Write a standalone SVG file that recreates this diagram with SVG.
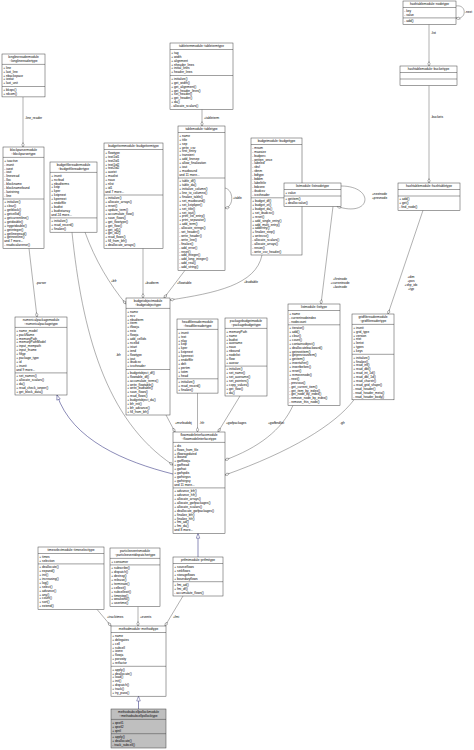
<svg xmlns="http://www.w3.org/2000/svg" width="474" height="750" viewBox="0 0 474 750">
<style>
.b{fill:#fff;stroke:#404040;stroke-width:0.5}
.g{fill:#bfbfbf;stroke:#404040;stroke-width:0.5}
.s{stroke:#404040;stroke-width:0.5}
.t{font-family:"Liberation Sans",Arial,sans-serif;font-size:3.2px;fill:#000}
.c{text-anchor:middle}
.e{fill:none;stroke:#505050;stroke-width:0.45}
.i{fill:none;stroke:#191970;stroke-width:0.5}
</style>
<defs>
<marker id="od" markerUnits="userSpaceOnUse" markerWidth="6" markerHeight="4" viewBox="0 0 6 4" refX="5" refY="2" orient="auto"><path d="M0.6,2 L2.8,0.8 L5,2 L2.8,3.2 Z" fill="#fff" stroke="#404040" stroke-width="0.4"/></marker>
<marker id="tri" markerUnits="userSpaceOnUse" markerWidth="6" markerHeight="5" viewBox="0 0 6 5" refX="5.4" refY="2.5" orient="auto"><path d="M0.6,0.7 L5.4,2.5 L0.6,4.3 Z" fill="#fff" stroke="#191970" stroke-width="0.4"/></marker>
</defs>
<rect width="474" height="750" fill="#fff"/>

<g id="connectors">
<path class="e" d="M23,96.9 L23,147" marker-end="url(#od)"/>
<path class="e" d="M456,6 C467,4 467,20 456,18" marker-end="url(#od)"/>
<path class="e" d="M429,24.4 L429,66" marker-end="url(#od)"/>
<path class="e" d="M429,85.5 L429,183" marker-end="url(#od)"/>
<path class="e" d="M341,186 C375,186 372,218 337,206.4" marker-end="url(#od)"/>
<path class="e" d="M333,206.4 L321,304" marker-end="url(#od)"/>
<path class="e" d="M423,210.3 L388,314" marker-end="url(#od)"/>
<path class="e" d="M202,109.3 L202,126" marker-end="url(#od)"/>
<path class="e" d="M225,188 C234,190 234,207 225,208" marker-end="url(#od)"/>
<path class="e" d="M143,248.3 L143,298" marker-end="url(#od)"/>
<path class="e" d="M85,232.2 C95,260 110,285 126,304" marker-end="url(#od)"/>
<path class="e" d="M185,270.3 L164,298" marker-end="url(#od)"/>
<path class="e" d="M262,255 C256,285 215,293 170,300" marker-end="url(#od)"/>
<path class="e" d="M29,248.4 L37,317" marker-end="url(#od)"/>
<path class="e" d="M72,232.2 C82,330 105,420 173,465" marker-end="url(#od)"/>
<path class="i" d="M173,474 C125,462 72,440 57,395" marker-end="url(#tri)"/>
<path class="e" d="M166,415 L175,432" marker-end="url(#od)"/>
<path class="e" d="M197.5,393.1 L197.5,432" marker-end="url(#od)"/>
<path class="e" d="M240,396 L218,432" marker-end="url(#od)"/>
<path class="e" d="M293,405.4 C282,430 258,448 225,460" marker-end="url(#od)"/>
<path class="e" d="M354,399.8 C335,425 290,452 225,475" marker-end="url(#od)"/>
<path class="i" d="M198,557 L198,533.4" marker-end="url(#tri)"/>
<path class="e" d="M183,596 L165,626" marker-end="url(#od)"/>
<path class="e" d="M97,609.4 L111,626" marker-end="url(#od)"/>
<path class="e" d="M138,606.5 L138,626" marker-end="url(#od)"/>
<path class="i" d="M138.5,709 L138.5,696.2" marker-end="url(#tri)"/>
<text class="t" x="25" y="119">-line_reader</text>
<text class="t" x="465" y="13">-next</text>
<text class="t" x="431" y="34">-list</text>
<text class="t" x="431" y="118">-buckets</text>
<text class="t" x="372" y="195">+nextnode</text>
<text class="t" x="372" y="199">+prevnode</text>
<text class="t c" x="340"><tspan x="340" y="280">+firstnode</tspan><tspan x="340" dy="3.9">+currentnode</tspan><tspan x="340" dy="3.9">+lastnode</tspan></text>
<text class="t c" x="411"><tspan x="411" y="278">+dim</tspan><tspan x="411" dy="3.9">+pos</tspan><tspan x="411" dy="3.9">+shp_idx</tspan><tspan x="411" dy="3.9">+typ</tspan></text>
<text class="t" x="204" y="119">+tableterm</text>
<text class="t" x="233" y="199">+table</text>
<text class="t" x="145" y="284">+budterm</text>
<text class="t" x="111" y="282">+bfr</text>
<text class="t" x="177" y="284">+flowtable</text>
<text class="t" x="244" y="283">+budtable</text>
<text class="t" x="36" y="284">-parser</text>
<text class="t" x="116" y="356">-bfr</text>
<text class="t" x="175" y="424">+mvrbudobj</text>
<text class="t" x="199.5" y="424">-hfr</text>
<text class="t" x="226" y="424">+gwfpackages</text>
<text class="t" x="268" y="424">+gwfbndlist</text>
<text class="t" x="340" y="424">-gfr</text>
<text class="t" x="173" y="618">+fmi</text>
<text class="t" x="107" y="618">+tracktimes</text>
<text class="t" x="140" y="618">+events</text>
</g>

<g id="longlinereadertype">
<rect class="b" x="2" y="54" width="43" height="42.9"/>
<line class="s" x1="2" y1="64.4" x2="45" y2="64.4"/><line class="s" x1="2" y1="86.5" x2="45" y2="86.5"/>
<text class="t c"><tspan x="23.5" y="58.3">longlinereadermodule</tspan><tspan x="23.5" dy="3.9">::longlinereadertype</tspan></text>
<text class="t"><tspan x="3.3" y="68.7">+ line</tspan><tspan x="3.3" dy="3.9">+ last_line</tspan><tspan x="3.3" dy="3.9">+ nbackspace</tspan><tspan x="3.3" dy="3.9">+ iostat</tspan><tspan x="3.3" dy="3.9">+ last_unit</tspan></text>
<text class="t"><tspan x="3.3" y="90.8">+ bkspc()</tspan><tspan x="3.3" dy="3.9">+ rdcom()</tspan></text>
</g>

<g id="blockparsertype">
<rect class="b" x="3" y="147" width="41" height="101.4"/>
<line class="s" x1="3" y1="157.4" x2="44" y2="157.4"/><line class="s" x1="3" y1="199" x2="44" y2="199"/>
<text class="t c"><tspan x="23.5" y="151.3">blockparsermodule</tspan><tspan x="23.5" dy="3.9">::blockparsertype</tspan></text>
<text class="t"><tspan x="4.3" y="161.7">+ iuactive</tspan><tspan x="4.3" dy="3.9">- inunit</tspan><tspan x="4.3" dy="3.9">- iuext</tspan><tspan x="4.3" dy="3.9">- iout</tspan><tspan x="4.3" dy="3.9">- linesread</tspan><tspan x="4.3" dy="3.9">- lloc</tspan><tspan x="4.3" dy="3.9">- blockname</tspan><tspan x="4.3" dy="3.9">- blocknamefound</tspan><tspan x="4.3" dy="3.9">- laststring</tspan><tspan x="4.3" dy="3.9">- line</tspan></text>
<text class="t"><tspan x="4.3" y="203.3">+ initialize()</tspan><tspan x="4.3" dy="3.9">+ clear()</tspan><tspan x="4.3" dy="3.9">+ getblock()</tspan><tspan x="4.3" dy="3.9">+ getcellid()</tspan><tspan x="4.3" dy="3.9">+ getcurrentline()</tspan><tspan x="4.3" dy="3.9">+ getdouble()</tspan><tspan x="4.3" dy="3.9">+ trygetdouble()</tspan><tspan x="4.3" dy="3.9">+ getinteger()</tspan><tspan x="4.3" dy="3.9">+ getlinesread()</tspan><tspan x="4.3" dy="3.9">+ getnextline()</tspan><tspan x="4.3" dy="3.9">and 7 more...</tspan><tspan x="4.3" dy="3.9">- readscalarerror()</tspan></text>
</g>

<g id="budgetfilereadertype">
<rect class="b" x="50" y="162" width="47" height="70.2"/>
<line class="s" x1="50" y1="172.4" x2="97" y2="172.4"/><line class="s" x1="50" y1="217.9" x2="97" y2="217.9"/>
<text class="t c"><tspan x="73.5" y="166.3">budgetfilereadermodule</tspan><tspan x="73.5" dy="3.9">::budgetfilereadertype</tspan></text>
<text class="t"><tspan x="51.3" y="176.7">+ inunit</tspan><tspan x="51.3" dy="3.9">+ ncrbud</tspan><tspan x="51.3" dy="3.9">+ nbudterms</tspan><tspan x="51.3" dy="3.9">+ kstp</tspan><tspan x="51.3" dy="3.9">+ kper</tspan><tspan x="51.3" dy="3.9">+ kstpnext</tspan><tspan x="51.3" dy="3.9">+ kpernext</tspan><tspan x="51.3" dy="3.9">+ endoffile</tspan><tspan x="51.3" dy="3.9">+ budtxt</tspan><tspan x="51.3" dy="3.9">+ budtxtarray</tspan><tspan x="51.3" dy="3.9">and 24 more...</tspan></text>
<text class="t"><tspan x="51.3" y="222.2">+ initialize()</tspan><tspan x="51.3" dy="3.9">+ read_record()</tspan><tspan x="51.3" dy="3.9">+ finalize()</tspan></text>
</g>

<g id="budgettermtype">
<rect class="b" x="104" y="143" width="59" height="105.3"/>
<line class="s" x1="104" y1="149.5" x2="163" y2="149.5"/><line class="s" x1="104" y1="195" x2="163" y2="195"/>
<text class="t c" x="133.5" y="147.3">budgettermmodule::budgettermtype</text>
<text class="t"><tspan x="105.3" y="153.8">+ flowtype</tspan><tspan x="105.3" dy="3.9">+ text1id1</tspan><tspan x="105.3" dy="3.9">+ text2id1</tspan><tspan x="105.3" dy="3.9">+ text1id2</tspan><tspan x="105.3" dy="3.9">+ text2id2</tspan><tspan x="105.3" dy="3.9">+ auxtxt</tspan><tspan x="105.3" dy="3.9">+ maxlist</tspan><tspan x="105.3" dy="3.9">+ naux</tspan><tspan x="105.3" dy="3.9">+ nlist</tspan><tspan x="105.3" dy="3.9">+ id1</tspan><tspan x="105.3" dy="3.9">and 7 more...</tspan></text>
<text class="t"><tspan x="105.3" y="199.3">+ initialize()</tspan><tspan x="105.3" dy="3.9">+ allocate_arrays()</tspan><tspan x="105.3" dy="3.9">+ reset()</tspan><tspan x="105.3" dy="3.9">+ update_term()</tspan><tspan x="105.3" dy="3.9">+ accumulate_flow()</tspan><tspan x="105.3" dy="3.9">+ save_flows()</tspan><tspan x="105.3" dy="3.9">+ get_flowtype()</tspan><tspan x="105.3" dy="3.9">+ get_flow()</tspan><tspan x="105.3" dy="3.9">+ get_id1()</tspan><tspan x="105.3" dy="3.9">+ get_id2()</tspan><tspan x="105.3" dy="3.9">+ read_flows()</tspan><tspan x="105.3" dy="3.9">+ fill_from_bfr()</tspan><tspan x="105.3" dy="3.9">+ deallocate_arrays()</tspan></text>
</g>

<g id="tabletermtype">
<rect class="b" x="170" y="43" width="63" height="66.3"/>
<line class="s" x1="170" y1="49.5" x2="233" y2="49.5"/><line class="s" x1="170" y1="75.5" x2="233" y2="75.5"/>
<text class="t c" x="201.5" y="47.3">tabletermmodule::tabletermtype</text>
<text class="t"><tspan x="171.3" y="53.8">+ tag</tspan><tspan x="171.3" dy="3.9">+ width</tspan><tspan x="171.3" dy="3.9">+ alignment</tspan><tspan x="171.3" dy="3.9">+ nheader_lines</tspan><tspan x="171.3" dy="3.9">+ initial_lines</tspan><tspan x="171.3" dy="3.9">+ header_lines</tspan></text>
<text class="t"><tspan x="171.3" y="79.8">+ initialize()</tspan><tspan x="171.3" dy="3.9">+ get_width()</tspan><tspan x="171.3" dy="3.9">+ get_alignment()</tspan><tspan x="171.3" dy="3.9">+ get_header_lines()</tspan><tspan x="171.3" dy="3.9">+ set_header()</tspan><tspan x="171.3" dy="3.9">+ get_header()</tspan><tspan x="171.3" dy="3.9">+ da()</tspan><tspan x="171.3" dy="3.9">- allocate_scalars()</tspan></text>
</g>

<g id="tabletype">
<rect class="b" x="178" y="126" width="47" height="144.3"/>
<line class="s" x1="178" y1="132.5" x2="225" y2="132.5"/><line class="s" x1="178" y1="178" x2="225" y2="178"/>
<text class="t c" x="201.5" y="130.3">tablemodule::tabletype</text>
<text class="t"><tspan x="179.3" y="136.8">+ name</tspan><tspan x="179.3" dy="3.9">+ title</tspan><tspan x="179.3" dy="3.9">+ sep</tspan><tspan x="179.3" dy="3.9">+ write_csv</tspan><tspan x="179.3" dy="3.9">+ first_entry</tspan><tspan x="179.3" dy="3.9">+ transient</tspan><tspan x="179.3" dy="3.9">+ add_linesep</tspan><tspan x="179.3" dy="3.9">+ allow_finalization</tspan><tspan x="179.3" dy="3.9">+ iout</tspan><tspan x="179.3" dy="3.9">+ maxbound</tspan><tspan x="179.3" dy="3.9">and 11 more...</tspan></text>
<text class="t"><tspan x="179.3" y="182.3">+ table_df()</tspan><tspan x="179.3" dy="3.9">+ table_da()</tspan><tspan x="179.3" dy="3.9">+ initialize_column()</tspan><tspan x="179.3" dy="3.9">+ line_to_columns()</tspan><tspan x="179.3" dy="3.9">+ finalize_table()</tspan><tspan x="179.3" dy="3.9">+ set_maxbound()</tspan><tspan x="179.3" dy="3.9">+ set_kstpkper()</tspan><tspan x="179.3" dy="3.9">+ set_title()</tspan><tspan x="179.3" dy="3.9">+ set_iout()</tspan><tspan x="179.3" dy="3.9">+ print_list_entry()</tspan><tspan x="179.3" dy="3.9">+ print_separator()</tspan><tspan x="179.3" dy="3.9">+ add_term()</tspan><tspan x="179.3" dy="3.9">- allocate_strings()</tspan><tspan x="179.3" dy="3.9">- set_header()</tspan><tspan x="179.3" dy="3.9">- write_header()</tspan><tspan x="179.3" dy="3.9">- write_line()</tspan><tspan x="179.3" dy="3.9">- finalize()</tspan><tspan x="179.3" dy="3.9">- add_error()</tspan><tspan x="179.3" dy="3.9">- reset()</tspan><tspan x="179.3" dy="3.9">- add_integer()</tspan><tspan x="179.3" dy="3.9">- add_long_integer()</tspan><tspan x="179.3" dy="3.9">- add_real()</tspan><tspan x="179.3" dy="3.9">- add_string()</tspan></text>
</g>

<g id="budgettype">
<rect class="b" x="251" y="138" width="51" height="117"/>
<line class="s" x1="251" y1="144.5" x2="302" y2="144.5"/><line class="s" x1="251" y1="197.8" x2="302" y2="197.8"/>
<text class="t c" x="276.5" y="142.3">budgetmodule::budgettype</text>
<text class="t"><tspan x="252.3" y="148.8">- msum</tspan><tspan x="252.3" dy="3.9">- maxsize</tspan><tspan x="252.3" dy="3.9">- budperc</tspan><tspan x="252.3" dy="3.9">- written_once</tspan><tspan x="252.3" dy="3.9">- labeled</tspan><tspan x="252.3" dy="3.9">- vbvl</tspan><tspan x="252.3" dy="3.9">- vbnm</tspan><tspan x="252.3" dy="3.9">- bdtype</tspan><tspan x="252.3" dy="3.9">- bddim</tspan><tspan x="252.3" dy="3.9">- labeltitle</tspan><tspan x="252.3" dy="3.9">- bdzone</tspan><tspan x="252.3" dy="3.9">- ibudcsv</tspan><tspan x="252.3" dy="3.9">- icsvheader</tspan></text>
<text class="t"><tspan x="252.3" y="202.1">+ budget_df()</tspan><tspan x="252.3" dy="3.9">+ budget_ot()</tspan><tspan x="252.3" dy="3.9">+ budget_da()</tspan><tspan x="252.3" dy="3.9">+ set_ibudcsv()</tspan><tspan x="252.3" dy="3.9">+ reset()</tspan><tspan x="252.3" dy="3.9">+ add_single_entry()</tspan><tspan x="252.3" dy="3.9">+ add_multi_entry()</tspan><tspan x="252.3" dy="3.9">+ addentry()</tspan><tspan x="252.3" dy="3.9">+ finalize_step()</tspan><tspan x="252.3" dy="3.9">+ writecsv()</tspan><tspan x="252.3" dy="3.9">- allocate_scalars()</tspan><tspan x="252.3" dy="3.9">- allocate_arrays()</tspan><tspan x="252.3" dy="3.9">- resize()</tspan><tspan x="252.3" dy="3.9">- write_csv_header()</tspan></text>
</g>

<g id="nodetype">
<rect class="b" x="403" y="1" width="53" height="23.4"/>
<line class="s" x1="403" y1="7.5" x2="456" y2="7.5"/><line class="s" x1="403" y1="17.9" x2="456" y2="17.9"/>
<text class="t c" x="429.5" y="5.3">hashtablemodule::nodetype</text>
<text class="t"><tspan x="404.3" y="11.8">- key</tspan><tspan x="404.3" dy="3.9">- value</tspan></text>
<text class="t" x="404.3" y="22.2">- add()</text>
</g>

<g id="buckettype">
<rect class="b" x="400" y="66" width="57" height="19.5"/>
<line class="s" x1="400" y1="72.5" x2="457" y2="72.5"/><line class="s" x1="400" y1="79" x2="457" y2="79"/>
<text class="t c" x="428.5" y="70.3">hashtablemodule::buckettype</text>
</g>

<g id="hashtabletype">
<rect class="b" x="398" y="183" width="62" height="27.3"/>
<line class="s" x1="398" y1="189.5" x2="460" y2="189.5"/><line class="s" x1="398" y1="196" x2="460" y2="196"/>
<text class="t c" x="429" y="187.3">hashtablemodule::hashtabletype</text>
<text class="t"><tspan x="399.3" y="200.3">+ add()</tspan><tspan x="399.3" dy="3.9">+ get()</tspan><tspan x="399.3" dy="3.9">- find_node()</tspan></text>
</g>

<g id="listnodetype">
<rect class="b" x="284" y="183" width="57" height="23.4"/>
<line class="s" x1="284" y1="189.5" x2="341" y2="189.5"/><line class="s" x1="284" y1="196" x2="341" y2="196"/>
<text class="t c" x="312.5" y="187.3">listmodule::listnodetype</text>
<text class="t" x="285.3" y="193.8">+ value</text>
<text class="t"><tspan x="285.3" y="200.3">+ getitem()</tspan><tspan x="285.3" dy="3.9">+ deallocvalue()</tspan></text>
</g>

<g id="gridfilereadertype">
<rect class="b" x="352" y="314" width="42" height="85.8"/>
<line class="s" x1="352" y1="324.4" x2="394" y2="324.4"/><line class="s" x1="352" y1="354.3" x2="394" y2="354.3"/>
<text class="t c"><tspan x="373" y="318.3">gridfilereadermodule</tspan><tspan x="373" dy="3.9">::gridfilereadertype</tspan></text>
<text class="t"><tspan x="353.3" y="328.7">+ inunit</tspan><tspan x="353.3" dy="3.9">+ grid_type</tspan><tspan x="353.3" dy="3.9">+ version</tspan><tspan x="353.3" dy="3.9">+ ntxt</tspan><tspan x="353.3" dy="3.9">+ lentxt</tspan><tspan x="353.3" dy="3.9">+ types</tspan><tspan x="353.3" dy="3.9">+ keys</tspan></text>
<text class="t"><tspan x="353.3" y="358.6">+ initialize()</tspan><tspan x="353.3" dy="3.9">+ finalize()</tspan><tspan x="353.3" dy="3.9">+ read_int()</tspan><tspan x="353.3" dy="3.9">+ read_dbl()</tspan><tspan x="353.3" dy="3.9">+ read_int_1d()</tspan><tspan x="353.3" dy="3.9">+ read_dbl_1d()</tspan><tspan x="353.3" dy="3.9">+ read_charstr()</tspan><tspan x="353.3" dy="3.9">+ read_grid_shape()</tspan><tspan x="353.3" dy="3.9">- read_header()</tspan><tspan x="353.3" dy="3.9">- read_header_meta()</tspan><tspan x="353.3" dy="3.9">- read_header_body()</tspan></text>
</g>

<g id="listtype">
<rect class="b" x="288" y="304" width="52" height="101.4"/>
<line class="s" x1="288" y1="310.5" x2="340" y2="310.5"/><line class="s" x1="288" y1="324.8" x2="340" y2="324.8"/>
<text class="t c" x="314" y="308.3">listmodule::listtype</text>
<text class="t"><tspan x="289.3" y="314.8">+ name</tspan><tspan x="289.3" dy="3.9">- currentnodeindex</tspan><tspan x="289.3" dy="3.9">- nodecount</tspan></text>
<text class="t"><tspan x="289.3" y="329.1">+ iterator()</tspan><tspan x="289.3" dy="3.9">+ add()</tspan><tspan x="289.3" dy="3.9">+ clear()</tspan><tspan x="289.3" dy="3.9">+ count()</tspan><tspan x="289.3" dy="3.9">+ containsobject()</tspan><tspan x="289.3" dy="3.9">+ deallocatebackward()</tspan><tspan x="289.3" dy="3.9">+ getnextitem()</tspan><tspan x="289.3" dy="3.9">+ getpreviousitem()</tspan><tspan x="289.3" dy="3.9">+ getitem()</tspan><tspan x="289.3" dy="3.9">+ insertafter()</tspan><tspan x="289.3" dy="3.9">+ insertbefore()</tspan><tspan x="289.3" dy="3.9">+ reset()</tspan><tspan x="289.3" dy="3.9">+ removenode()</tspan><tspan x="289.3" dy="3.9">- next()</tspan><tspan x="289.3" dy="3.9">- previous()</tspan><tspan x="289.3" dy="3.9">- get_current_item()</tspan><tspan x="289.3" dy="3.9">- get_item_by_index()</tspan><tspan x="289.3" dy="3.9">- get_node_by_index()</tspan><tspan x="289.3" dy="3.9">- remove_node_by_index()</tspan><tspan x="289.3" dy="3.9">- remove_this_node()</tspan></text>
</g>

<g id="budgetobjecttype">
<rect class="b" x="126" y="298" width="44" height="117"/>
<line class="s" x1="126" y1="308.4" x2="170" y2="308.4"/><line class="s" x1="126" y1="369.5" x2="170" y2="369.5"/>
<text class="t c"><tspan x="148" y="302.3">budgetobjectmodule</tspan><tspan x="148" dy="3.9">::budgetobjecttype</tspan></text>
<text class="t"><tspan x="127.3" y="312.7">+ name</tspan><tspan x="127.3" dy="3.9">+ ncv</tspan><tspan x="127.3" dy="3.9">+ nbudterm</tspan><tspan x="127.3" dy="3.9">+ iterm</tspan><tspan x="127.3" dy="3.9">+ iflowja</tspan><tspan x="127.3" dy="3.9">+ nsto</tspan><tspan x="127.3" dy="3.9">+ flowja</tspan><tspan x="127.3" dy="3.9">+ add_cellids</tspan><tspan x="127.3" dy="3.9">+ ncellid</tspan><tspan x="127.3" dy="3.9">+ istart</tspan><tspan x="127.3" dy="3.9">+ iend</tspan><tspan x="127.3" dy="3.9">+ flowtype</tspan><tspan x="127.3" dy="3.9">+ iout</tspan><tspan x="127.3" dy="3.9">+ ibudcsv</tspan><tspan x="127.3" dy="3.9">+ icsvheader</tspan></text>
<text class="t"><tspan x="127.3" y="373.8">+ budgetobject_df()</tspan><tspan x="127.3" dy="3.9">+ flowtable_df()</tspan><tspan x="127.3" dy="3.9">+ accumulate_terms()</tspan><tspan x="127.3" dy="3.9">+ write_flowtable()</tspan><tspan x="127.3" dy="3.9">+ write_budtable()</tspan><tspan x="127.3" dy="3.9">+ save_flows()</tspan><tspan x="127.3" dy="3.9">+ read_flows()</tspan><tspan x="127.3" dy="3.9">+ budgetobject_da()</tspan><tspan x="127.3" dy="3.9">+ bfr_init()</tspan><tspan x="127.3" dy="3.9">+ bfr_advance()</tspan><tspan x="127.3" dy="3.9">+ fill_from_bfr()</tspan></text>
</g>

<g id="headfilereadertype">
<rect class="b" x="177" y="319" width="41" height="74.1"/>
<line class="s" x1="177" y1="329.4" x2="218" y2="329.4"/><line class="s" x1="177" y1="378.8" x2="218" y2="378.8"/>
<text class="t c"><tspan x="197.5" y="323.3">headfilereadermodule</tspan><tspan x="197.5" dy="3.9">::headfilereadertype</tspan></text>
<text class="t"><tspan x="178.3" y="333.7">+ inunit</tspan><tspan x="178.3" dy="3.9">+ text</tspan><tspan x="178.3" dy="3.9">+ nlay</tspan><tspan x="178.3" dy="3.9">+ kstp</tspan><tspan x="178.3" dy="3.9">+ kper</tspan><tspan x="178.3" dy="3.9">+ kstpnext</tspan><tspan x="178.3" dy="3.9">+ kpernext</tspan><tspan x="178.3" dy="3.9">+ endoffile</tspan><tspan x="178.3" dy="3.9">+ delt</tspan><tspan x="178.3" dy="3.9">+ pertim</tspan><tspan x="178.3" dy="3.9">+ totim</tspan><tspan x="178.3" dy="3.9">+ head</tspan></text>
<text class="t"><tspan x="178.3" y="383.1">+ initialize()</tspan><tspan x="178.3" dy="3.9">+ read_record()</tspan><tspan x="178.3" dy="3.9">+ finalize()</tspan></text>
</g>

<g id="packagebudgettype">
<rect class="b" x="225" y="318" width="42" height="78"/>
<line class="s" x1="225" y1="328.4" x2="267" y2="328.4"/><line class="s" x1="225" y1="366.1" x2="267" y2="366.1"/>
<text class="t c"><tspan x="246" y="322.3">packagebudgetmodule</tspan><tspan x="246" dy="3.9">::packagebudgettype</tspan></text>
<text class="t"><tspan x="226.3" y="332.7">+ memoryPath</tspan><tspan x="226.3" dy="3.9">+ name</tspan><tspan x="226.3" dy="3.9">+ budtxt</tspan><tspan x="226.3" dy="3.9">+ auxname</tspan><tspan x="226.3" dy="3.9">+ naux</tspan><tspan x="226.3" dy="3.9">+ nbound</tspan><tspan x="226.3" dy="3.9">+ nodelist</tspan><tspan x="226.3" dy="3.9">+ flow</tspan><tspan x="226.3" dy="3.9">+ auxvar</tspan></text>
<text class="t"><tspan x="226.3" y="370.4">+ initialize()</tspan><tspan x="226.3" dy="3.9">+ set_name()</tspan><tspan x="226.3" dy="3.9">+ set_auxname()</tspan><tspan x="226.3" dy="3.9">+ set_pointers()</tspan><tspan x="226.3" dy="3.9">+ copy_values()</tspan><tspan x="226.3" dy="3.9">+ get_flow()</tspan><tspan x="226.3" dy="3.9">+ da()</tspan></text>
</g>

<g id="flowmodelinterfacetype">
<rect class="b" x="173" y="432" width="52" height="101.4"/>
<line class="s" x1="173" y1="442.4" x2="225" y2="442.4"/><line class="s" x1="173" y1="487.9" x2="225" y2="487.9"/>
<text class="t c"><tspan x="199" y="436.3">flowmodelinterfacemodule</tspan><tspan x="199" dy="3.9">::flowmodelinterfacetype</tspan></text>
<text class="t"><tspan x="174.3" y="446.7">+ dis</tspan><tspan x="174.3" dy="3.9">+ flows_from_file</tspan><tspan x="174.3" dy="3.9">+ iflowsupdated</tspan><tspan x="174.3" dy="3.9">+ ibound</tspan><tspan x="174.3" dy="3.9">+ gwfflowja</tspan><tspan x="174.3" dy="3.9">+ gwfhead</tspan><tspan x="174.3" dy="3.9">+ gwfsat</tspan><tspan x="174.3" dy="3.9">+ gwfspdis</tspan><tspan x="174.3" dy="3.9">+ gwfstrgss</tspan><tspan x="174.3" dy="3.9">+ gwfstrgsy</tspan><tspan x="174.3" dy="3.9">and 11 more...</tspan></text>
<text class="t"><tspan x="174.3" y="492.2">+ advance_bfr()</tspan><tspan x="174.3" dy="3.9">+ advance_hfr()</tspan><tspan x="174.3" dy="3.9">+ allocate_arrays()</tspan><tspan x="174.3" dy="3.9">+ allocate_gwfpackages()</tspan><tspan x="174.3" dy="3.9">+ allocate_scalars()</tspan><tspan x="174.3" dy="3.9">+ deallocate_gwfpackages()</tspan><tspan x="174.3" dy="3.9">+ finalize_bfr()</tspan><tspan x="174.3" dy="3.9">+ finalize_hfr()</tspan><tspan x="174.3" dy="3.9">+ fmi_ad()</tspan><tspan x="174.3" dy="3.9">+ fmi_da()</tspan><tspan x="174.3" dy="3.9">and 8 more...</tspan></text>
</g>

<g id="prtfmitype">
<rect class="b" x="173" y="557" width="50" height="39"/>
<line class="s" x1="173" y1="563.5" x2="223" y2="563.5"/><line class="s" x1="173" y1="581.7" x2="223" y2="581.7"/>
<text class="t c" x="198" y="561.3">prtfmimodule::prtfmitype</text>
<text class="t"><tspan x="174.3" y="567.8">+ sourceflows</tspan><tspan x="174.3" dy="3.9">+ sinkflows</tspan><tspan x="174.3" dy="3.9">+ storageflows</tspan><tspan x="174.3" dy="3.9">+ boundaryflows</tspan></text>
<text class="t"><tspan x="174.3" y="586">+ fmi_ad()</tspan><tspan x="174.3" dy="3.9">+ fmi_df()</tspan><tspan x="174.3" dy="3.9">- accumulate_flows()</tspan></text>
</g>

<g id="numericalpackagetype">
<rect class="b" x="15" y="317" width="52" height="78"/>
<line class="s" x1="15" y1="327.4" x2="67" y2="327.4"/><line class="s" x1="15" y1="372.9" x2="67" y2="372.9"/>
<text class="t c"><tspan x="41" y="321.3">numericalpackagemodule</tspan><tspan x="41" dy="3.9">::numericalpackagetype</tspan></text>
<text class="t"><tspan x="16.3" y="331.7">+ name_model</tspan><tspan x="16.3" dy="3.9">+ packName</tspan><tspan x="16.3" dy="3.9">+ memoryPath</tspan><tspan x="16.3" dy="3.9">+ memoryPathModel</tspan><tspan x="16.3" dy="3.9">+ input_mempath</tspan><tspan x="16.3" dy="3.9">+ input_fname</tspan><tspan x="16.3" dy="3.9">+ filtyp</tspan><tspan x="16.3" dy="3.9">+ package_type</tspan><tspan x="16.3" dy="3.9">+ id</tspan><tspan x="16.3" dy="3.9">+ inunit</tspan><tspan x="16.3" dy="3.9">and 9 more...</tspan></text>
<text class="t"><tspan x="16.3" y="377.2">+ set_names()</tspan><tspan x="16.3" dy="3.9">+ allocate_scalars()</tspan><tspan x="16.3" dy="3.9">+ da()</tspan><tspan x="16.3" dy="3.9">+ read_check_ionper()</tspan><tspan x="16.3" dy="3.9">+ get_block_data()</tspan></text>
</g>

<g id="timeselecttype">
<rect class="b" x="38" y="547" width="66" height="62.4"/>
<line class="s" x1="38" y1="553.5" x2="104" y2="553.5"/><line class="s" x1="38" y1="563.9" x2="104" y2="563.9"/>
<text class="t c" x="71" y="551.3">timeselectmodule::timeselecttype</text>
<text class="t"><tspan x="39.3" y="557.8">+ times</tspan><tspan x="39.3" dy="3.9">+ selection</tspan></text>
<text class="t"><tspan x="39.3" y="568.2">+ deallocate()</tspan><tspan x="39.3" dy="3.9">+ expand()</tspan><tspan x="39.3" dy="3.9">+ init()</tspan><tspan x="39.3" dy="3.9">+ increasing()</tspan><tspan x="39.3" dy="3.9">+ log()</tspan><tspan x="39.3" dy="3.9">+ select()</tspan><tspan x="39.3" dy="3.9">+ advance()</tspan><tspan x="39.3" dy="3.9">+ any()</tspan><tspan x="39.3" dy="3.9">+ count()</tspan><tspan x="39.3" dy="3.9">+ sort()</tspan><tspan x="39.3" dy="3.9">+ extend()</tspan></text>
</g>

<g id="particleeventdispatchertype">
<rect class="b" x="110" y="548" width="50" height="58.5"/>
<line class="s" x1="110" y1="558.4" x2="160" y2="558.4"/><line class="s" x1="110" y1="564.9" x2="160" y2="564.9"/>
<text class="t c"><tspan x="135" y="552.3">particleeventsmodule</tspan><tspan x="135" dy="3.9">::particleeventdispatchertype</tspan></text>
<text class="t" x="111.3" y="562.7">+ consumer</text>
<text class="t"><tspan x="111.3" y="569.2">+ subscribe()</tspan><tspan x="111.3" dy="3.9">+ dispatch()</tspan><tspan x="111.3" dy="3.9">+ destroy()</tspan><tspan x="111.3" dy="3.9">+ release()</tspan><tspan x="111.3" dy="3.9">+ terminate()</tspan><tspan x="111.3" dy="3.9">+ cellexit()</tspan><tspan x="111.3" dy="3.9">+ subcellexit()</tspan><tspan x="111.3" dy="3.9">+ timestep()</tspan><tspan x="111.3" dy="3.9">+ weaksink()</tspan><tspan x="111.3" dy="3.9">+ usertime()</tspan></text>
</g>

<g id="methodtype">
<rect class="b" x="111" y="626" width="55" height="70.2"/>
<line class="s" x1="111" y1="632.5" x2="166" y2="632.5"/><line class="s" x1="111" y1="666.3" x2="166" y2="666.3"/>
<text class="t c" x="138.5" y="630.3">methodmodule::methodtype</text>
<text class="t"><tspan x="112.3" y="636.8">+ name</tspan><tspan x="112.3" dy="3.9">+ delegates</tspan><tspan x="112.3" dy="3.9">+ cell</tspan><tspan x="112.3" dy="3.9">+ subcell</tspan><tspan x="112.3" dy="3.9">+ izone</tspan><tspan x="112.3" dy="3.9">+ flowja</tspan><tspan x="112.3" dy="3.9">+ porosity</tspan><tspan x="112.3" dy="3.9">+ retfactor</tspan></text>
<text class="t"><tspan x="112.3" y="670.6">+ apply()</tspan><tspan x="112.3" dy="3.9">+ deallocate()</tspan><tspan x="112.3" dy="3.9">+ load()</tspan><tspan x="112.3" dy="3.9">+ init()</tspan><tspan x="112.3" dy="3.9">+ dispatch()</tspan><tspan x="112.3" dy="3.9">+ track()</tspan><tspan x="112.3" dy="3.9">+ try_pass()</tspan></text>
</g>

<g id="methodsubcellpollocktype">
<rect class="g" x="111" y="709" width="55" height="39"/>
<line class="s" x1="111" y1="719.4" x2="166" y2="719.4"/><line class="s" x1="111" y1="733.7" x2="166" y2="733.7"/>
<text class="t c"><tspan x="138.5" y="713.3">methodsubcellpollockmodule</tspan><tspan x="138.5" dy="3.9">::methodsubcellpollocktype</tspan></text>
<text class="t"><tspan x="112.3" y="723.7">+ qextl1</tspan><tspan x="112.3" dy="3.9">+ qextl2</tspan><tspan x="112.3" dy="3.9">+ qintl</tspan></text>
<text class="t"><tspan x="112.3" y="738">+ apply()</tspan><tspan x="112.3" dy="3.9">+ deallocate()</tspan><tspan x="112.3" dy="3.9">- track_subcell()</tspan></text>
</g>
</svg>
